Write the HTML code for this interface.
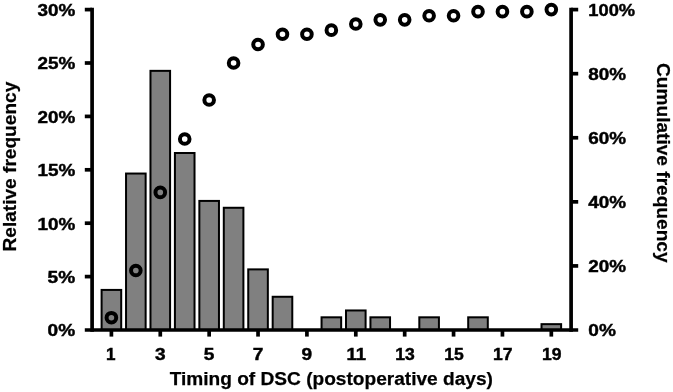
<!DOCTYPE html>
<html lang="en"><head><meta charset="utf-8"><title>Timing of DSC</title>
<style>html,body{margin:0;padding:0;background:#fff}body{width:673px;height:392px;overflow:hidden}svg{display:block}text{font-family:"Liberation Sans",sans-serif;font-weight:bold;fill:#000}</style>
</head><body>
<svg width="673" height="392" viewBox="0 0 673 392">
<rect width="673" height="392" fill="#fff"/>
<g fill="#808080" stroke="#000" stroke-width="2.0">
<rect x="101.60" y="289.92" width="19.60" height="40.08"/>
<rect x="126.04" y="173.54" width="19.60" height="156.46"/>
<rect x="150.48" y="70.85" width="19.60" height="259.15"/>
<rect x="174.92" y="153.00" width="19.60" height="177.00"/>
<rect x="199.36" y="200.92" width="19.60" height="129.08"/>
<rect x="223.80" y="207.77" width="19.60" height="122.23"/>
<rect x="248.24" y="269.38" width="19.60" height="60.62"/>
<rect x="272.68" y="296.77" width="19.60" height="33.23"/>
<rect x="321.56" y="317.31" width="19.60" height="12.69"/>
<rect x="346.00" y="310.46" width="19.60" height="19.54"/>
<rect x="370.44" y="317.31" width="19.60" height="12.69"/>
<rect x="419.32" y="317.31" width="19.60" height="12.69"/>
<rect x="468.20" y="317.31" width="19.60" height="12.69"/>
<rect x="541.52" y="324.15" width="19.60" height="5.85"/>
</g>
<g stroke="#000" stroke-width="3.7" fill="none" stroke-linecap="butt">
<path d="M92.10 7.75 V331.85"/>
<path d="M571.10 7.75 V331.85"/>
<path d="M84.80 330.00 H578.20"/>
<path d="M84.80 276.60 H92.10"/>
<path d="M84.80 223.20 H92.10"/>
<path d="M84.80 169.80 H92.10"/>
<path d="M84.80 116.40 H92.10"/>
<path d="M84.80 63.00 H92.10"/>
<path d="M84.80 9.60 H92.10"/>
<path d="M571.10 265.92 H578.20"/>
<path d="M571.10 201.84 H578.20"/>
<path d="M571.10 137.76 H578.20"/>
<path d="M571.10 73.68 H578.20"/>
<path d="M571.10 9.60 H578.20"/>
<path d="M111.40 330.00 V336.60"/>
<path d="M160.28 330.00 V336.60"/>
<path d="M209.16 330.00 V336.60"/>
<path d="M258.04 330.00 V336.60"/>
<path d="M306.92 330.00 V336.60"/>
<path d="M355.80 330.00 V336.60"/>
<path d="M404.68 330.00 V336.60"/>
<path d="M453.56 330.00 V336.60"/>
<path d="M502.44 330.00 V336.60"/>
<path d="M551.32 330.00 V336.60"/>
</g>
<g fill="none" stroke="#000" stroke-width="4.0">
<circle cx="111.40" cy="317.68" r="4.8"/>
<circle cx="135.84" cy="270.44" r="4.8"/>
<circle cx="160.28" cy="192.39" r="4.8"/>
<circle cx="184.72" cy="138.99" r="4.8"/>
<circle cx="209.16" cy="99.97" r="4.8"/>
<circle cx="233.60" cy="63.00" r="4.8"/>
<circle cx="258.04" cy="44.52" r="4.8"/>
<circle cx="282.48" cy="34.25" r="4.8"/>
<circle cx="306.92" cy="34.25" r="4.8"/>
<circle cx="331.36" cy="30.14" r="4.8"/>
<circle cx="355.80" cy="23.98" r="4.8"/>
<circle cx="380.24" cy="19.87" r="4.8"/>
<circle cx="404.68" cy="19.87" r="4.8"/>
<circle cx="429.12" cy="15.76" r="4.8"/>
<circle cx="453.56" cy="15.76" r="4.8"/>
<circle cx="478.00" cy="11.65" r="4.8"/>
<circle cx="502.44" cy="11.65" r="4.8"/>
<circle cx="526.88" cy="11.65" r="4.8"/>
<circle cx="551.32" cy="9.60" r="4.8"/>
</g>
<text x="75.20" y="336.40" font-size="17.1" text-anchor="end" stroke="#000" stroke-width="0.45" textLength="27.6" lengthAdjust="spacingAndGlyphs">0%</text>
<text x="75.20" y="283.00" font-size="17.1" text-anchor="end" stroke="#000" stroke-width="0.45" textLength="27.6" lengthAdjust="spacingAndGlyphs">5%</text>
<text x="75.20" y="229.60" font-size="17.1" text-anchor="end" stroke="#000" stroke-width="0.45" textLength="37.8" lengthAdjust="spacingAndGlyphs">10%</text>
<text x="75.20" y="176.20" font-size="17.1" text-anchor="end" stroke="#000" stroke-width="0.45" textLength="37.8" lengthAdjust="spacingAndGlyphs">15%</text>
<text x="75.20" y="122.80" font-size="17.1" text-anchor="end" stroke="#000" stroke-width="0.45" textLength="37.8" lengthAdjust="spacingAndGlyphs">20%</text>
<text x="75.20" y="69.40" font-size="17.1" text-anchor="end" stroke="#000" stroke-width="0.45" textLength="37.8" lengthAdjust="spacingAndGlyphs">25%</text>
<text x="75.20" y="16.00" font-size="17.1" text-anchor="end" stroke="#000" stroke-width="0.45" textLength="37.8" lengthAdjust="spacingAndGlyphs">30%</text>
<text x="588.30" y="336.40" font-size="17.1" text-anchor="start" stroke="#000" stroke-width="0.45" textLength="27.6" lengthAdjust="spacingAndGlyphs">0%</text>
<text x="588.30" y="272.32" font-size="17.1" text-anchor="start" stroke="#000" stroke-width="0.45" textLength="37.8" lengthAdjust="spacingAndGlyphs">20%</text>
<text x="588.30" y="208.24" font-size="17.1" text-anchor="start" stroke="#000" stroke-width="0.45" textLength="37.8" lengthAdjust="spacingAndGlyphs">40%</text>
<text x="588.30" y="144.16" font-size="17.1" text-anchor="start" stroke="#000" stroke-width="0.45" textLength="37.8" lengthAdjust="spacingAndGlyphs">60%</text>
<text x="588.30" y="80.08" font-size="17.1" text-anchor="start" stroke="#000" stroke-width="0.45" textLength="37.8" lengthAdjust="spacingAndGlyphs">80%</text>
<text x="588.30" y="16.00" font-size="17.1" text-anchor="start" stroke="#000" stroke-width="0.45" textLength="46.8" lengthAdjust="spacingAndGlyphs">100%</text>
<text x="110.80" y="360.20" font-size="17.1" text-anchor="middle" stroke="#000" stroke-width="0.45">1</text>
<text x="160.28" y="360.20" font-size="17.1" text-anchor="middle" stroke="#000" stroke-width="0.45" textLength="10.6" lengthAdjust="spacingAndGlyphs">3</text>
<text x="209.16" y="360.20" font-size="17.1" text-anchor="middle" stroke="#000" stroke-width="0.45" textLength="10.6" lengthAdjust="spacingAndGlyphs">5</text>
<text x="258.04" y="360.20" font-size="17.1" text-anchor="middle" stroke="#000" stroke-width="0.45" textLength="10.6" lengthAdjust="spacingAndGlyphs">7</text>
<text x="306.92" y="360.20" font-size="17.1" text-anchor="middle" stroke="#000" stroke-width="0.45" textLength="10.6" lengthAdjust="spacingAndGlyphs">9</text>
<text x="356.20" y="360.20" font-size="17.1" text-anchor="middle" stroke="#000" stroke-width="0.45" textLength="19.5" lengthAdjust="spacingAndGlyphs">11</text>
<text x="405.08" y="360.20" font-size="17.1" text-anchor="middle" stroke="#000" stroke-width="0.45" textLength="19.5" lengthAdjust="spacingAndGlyphs">13</text>
<text x="453.96" y="360.20" font-size="17.1" text-anchor="middle" stroke="#000" stroke-width="0.45" textLength="19.5" lengthAdjust="spacingAndGlyphs">15</text>
<text x="502.84" y="360.20" font-size="17.1" text-anchor="middle" stroke="#000" stroke-width="0.45" textLength="19.5" lengthAdjust="spacingAndGlyphs">17</text>
<text x="551.72" y="360.20" font-size="17.1" text-anchor="middle" stroke="#000" stroke-width="0.45" textLength="19.5" lengthAdjust="spacingAndGlyphs">19</text>
<text font-size="19.1" text-anchor="middle" x="331.3" y="385.3" stroke="#000" stroke-width="0.25">Timing of DSC (postoperative days)</text>
<text font-size="19.1" text-anchor="middle" stroke="#000" stroke-width="0.25" transform="translate(16.4 166.6) rotate(-90)">Relative frequency</text>
<text font-size="19.1" text-anchor="middle" stroke="#000" stroke-width="0.25" transform="translate(656.5 162.8) rotate(90)">Cumulative frequency</text>
</svg></body></html>
